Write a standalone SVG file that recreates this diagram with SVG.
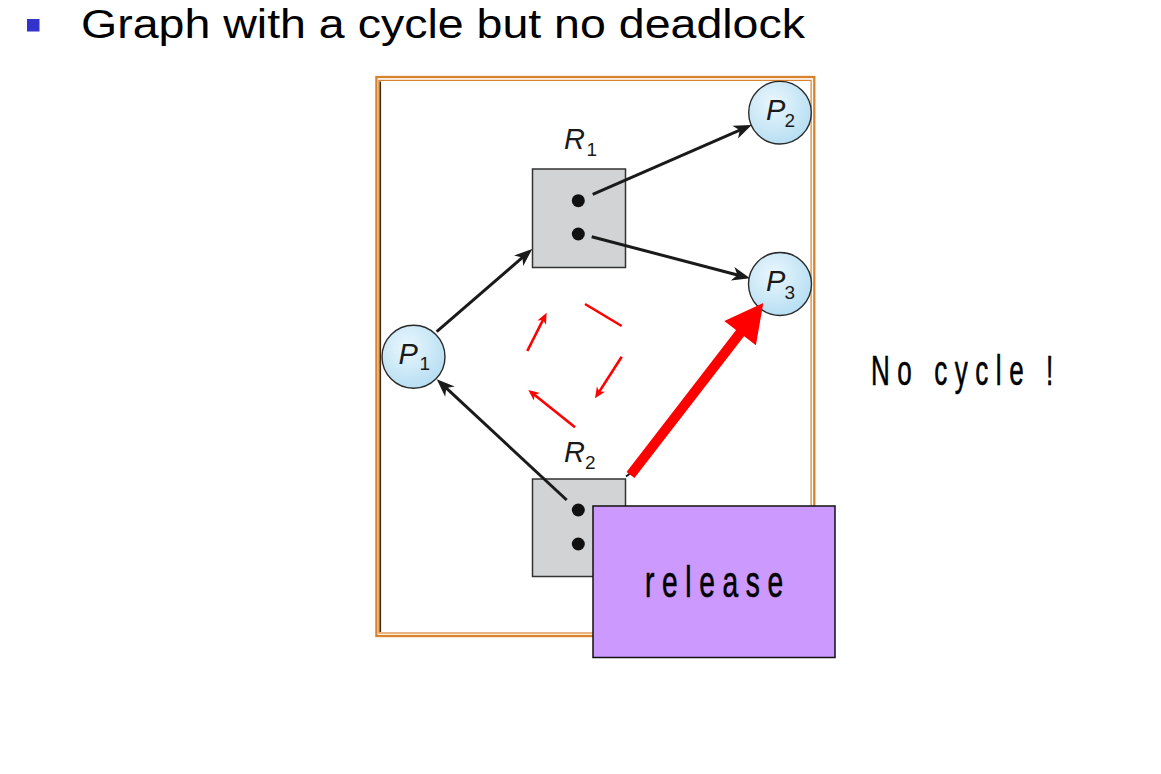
<svg xmlns="http://www.w3.org/2000/svg" width="1161" height="774" viewBox="0 0 1161 774">
  <style>
    .title { font-family: "Liberation Sans", Arial, sans-serif; font-size: 41px; fill: #000; }
    .proc { fill: url(#pgrad); stroke: #2a2a2a; stroke-width: 1.4; }
    .res { fill: #D1D3D4; stroke: #333; stroke-width: 1.5; }
    .dot { fill: #111; }
    .lbl { font-family: "Liberation Sans", Arial, sans-serif; font-style: italic; font-size: 29px; fill: #1a1a1a; }
    .sub { font-family: "Liberation Sans", Arial, sans-serif; font-size: 19px; fill: #1a1a1a; }
    .edge { stroke: #1a1a1a; stroke-width: 3; fill: none; marker-end: url(#ah); }
    .redthin { stroke: #FF0000; stroke-width: 2.6; fill: none; }
    .cond { font-family: "Liberation Sans", Arial, sans-serif; fill: #000; stroke: #000; stroke-width: 0.6; }
  </style>
  <defs>
    <radialGradient id="pgrad" cx="0.4" cy="0.35" r="0.7">
      <stop offset="0" stop-color="#EAF7FD"/>
      <stop offset="1" stop-color="#B4DDF2"/>
    </radialGradient>
    <marker id="ah" viewBox="-22 -10 24 20" markerWidth="24" markerHeight="20" refX="-8" refY="0" orient="auto" markerUnits="userSpaceOnUse">
      <path d="M0,0 L-18,-7 L-13,0 L-18,7 Z" fill="#1a1a1a"/>
    </marker>
    <marker id="ahr" viewBox="-14 -7 16 14" markerWidth="16" markerHeight="14" refX="-5" refY="0" orient="auto" markerUnits="userSpaceOnUse">
      <path d="M0,0 L-11,-4.8 L-8,0 L-11,4.8 Z" fill="#FF0000"/>
    </marker>
  </defs>

  <rect x="0" y="0" width="1161" height="774" fill="#FFFFFF"/>

  <!-- title -->
  <g id="title">
    <rect x="27" y="19" width="12.5" height="12.5" fill="#3333CC"/>
    <text class="title" x="81" y="37.5" textLength="724" lengthAdjust="spacingAndGlyphs">Graph with a cycle but no deadlock</text>
  </g>

  <!-- frame -->
  <g id="frame" fill="none">
    <rect x="376.4" y="77" width="437.9" height="559" stroke="#D9822B" stroke-width="2.3"/>
    <rect x="378.9" y="80.4" width="432.2" height="552.6" stroke="#D9822B" stroke-width="1.2"/>
    <line x1="380.3" y1="81.5" x2="380.3" y2="632" stroke="#3A2A1A" stroke-width="1.6"/>
  </g>

  <!-- nodes -->
  <g id="R1">
    <rect class="res" x="532.5" y="169" width="93" height="98.5"/>
    <circle class="dot" cx="578.3" cy="200.7" r="6.5"/>
    <circle class="dot" cx="578.3" cy="234" r="6.5"/>
    <text class="lbl" x="564" y="149">R</text>
    <text class="sub" x="586.5" y="156">1</text>
  </g>
  <g id="R2">
    <rect class="res" x="532.5" y="479" width="93" height="97.5"/>
    <circle class="dot" cx="578.3" cy="510" r="6.5"/>
    <circle class="dot" cx="578.3" cy="544" r="6.5"/>
    <text class="lbl" x="564" y="461.7">R</text>
    <text class="sub" x="585" y="468.5">2</text>
  </g>
  <g id="P1">
    <circle class="proc" cx="413.5" cy="356.7" r="31.5"/>
    <text class="lbl" x="398.5" y="363.5">P</text>
    <text class="sub" x="419.5" y="370">1</text>
  </g>
  <g id="P2">
    <circle class="proc" cx="780" cy="112.7" r="31.3"/>
    <text class="lbl" x="766" y="120">P</text>
    <text class="sub" x="784.5" y="127.3">2</text>
  </g>
  <g id="P3">
    <circle class="proc" cx="780" cy="284" r="31.5"/>
    <text class="lbl" x="766" y="291">P</text>
    <text class="sub" x="784.5" y="298.5">3</text>
  </g>

  <!-- connectors -->
  <g id="connectors">
    <line class="edge" x1="592.7" y1="194.3" x2="744.4" y2="128.2"/>
    <line class="edge" x1="591.7" y1="236.7" x2="742.3" y2="276.3"/>
    <line class="edge" x1="436.7" y1="331.7" x2="526.2" y2="254.2"/>
    <line class="edge" x1="566.7" y1="500" x2="442.6" y2="384.7"/>
    <line x1="626" y1="476.5" x2="634" y2="470.5" stroke="#1a1a1a" stroke-width="2"/>
  </g>

  <!-- red cycle annotation -->
  <g id="cycle">
    <line class="redthin" x1="527.3" y1="351" x2="544.4" y2="317.2" marker-end="url(#ahr)"/>
    <line class="redthin" x1="585" y1="304" x2="621.7" y2="326"/>
    <line class="redthin" x1="621.7" y1="356.7" x2="597.7" y2="394.1" marker-end="url(#ahr)"/>
    <line class="redthin" x1="575" y1="427.3" x2="532.2" y2="393.1" marker-end="url(#ahr)"/>
  </g>

  <!-- thick red arrow -->
  <g id="release-arrow">
    <line x1="630.5" y1="475" x2="742" y2="330.6" stroke="#FF0000" stroke-width="10"/>
    <polygon points="763.3,303 755.9,345.3 724.3,320.9" fill="#FF0000"/>
  </g>

  <!-- release box -->
  <g id="release">
    <rect x="593" y="506" width="242" height="151.5" fill="#CC99FF" stroke="#111" stroke-width="1.5"/>
    <text class="cond" font-size="44" transform="translate(645,597) scale(0.64,1)" x="0" y="0" textLength="216" lengthAdjust="spacing">release</text>
  </g>

  <g id="note">
    <text class="cond" font-size="42" transform="translate(871,385) scale(0.62,1)" x="0" y="0" textLength="294" lengthAdjust="spacing">No cycle !</text>
  </g>
</svg>
